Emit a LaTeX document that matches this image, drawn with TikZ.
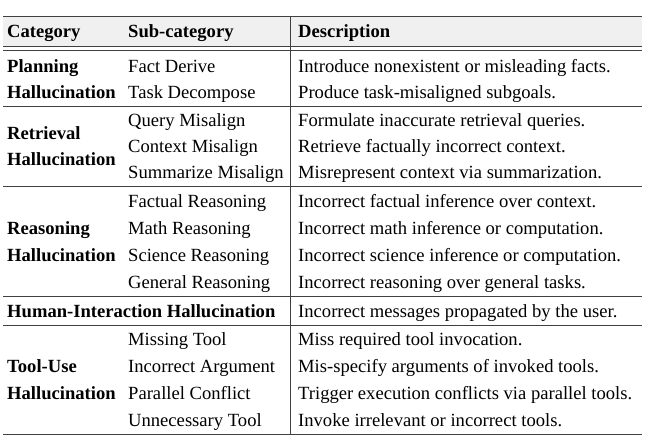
\documentclass[tikz,border=0pt]{standalone}
\usepackage{fontspec}
\setmainfont{Liberation Serif}
\begin{document}
\begin{tikzpicture}[x=1pt,y=-1pt,
  txt/.style={anchor=base west,inner sep=0pt,yshift=-6pt,font=\fontsize{18.6}{22}\selectfont},
  bld/.style={txt,font=\fontsize{18.6}{22}\selectfont\bfseries},
  rl/.style={line width=0.8pt,black!75}]
\useasboundingbox (0,0) rectangle (645,440);
\fill[black!6] (3,17) rectangle (642,46);
\draw[rl] (3,16.5) -- (642,16.5);
\draw[rl] (3,46.5) -- (642,46.5);
\draw[rl] (3,50) -- (642,50);
\foreach \y in {106,186,296,325} \draw[rl] (3,\y) -- (642,\y);
\draw[rl] (3,434) -- (642,434);
\draw[rl] (290,16.5) -- (290,434);
\node[bld] (h1) at (7,31) {Category};
\node[bld] (h2) at (128,31) {Sub-category};
\node[bld] (h3) at (298,31) {Description};
% Planning
\node[bld] (c1a) at (7,66) {Planning};
\node[bld] (c1b) at (7,92) {Hallucination};
\node[txt] (s11) at (128,66) {Fact Derive};
\node[txt] (s12) at (128,92) {Task Decompose};
\node[txt] (d11) at (298,66) {Introduce nonexistent or misleading facts.};
\node[txt] (d12) at (298,92) {Produce task-misaligned subgoals.};
% Retrieval
\node[bld] (c2a) at (7,133) {Retrieval};
\node[bld] (c2b) at (7,159) {Hallucination};
\node[txt] (s21) at (128,120) {Query Misalign};
\node[txt] (s22) at (128,146) {Context Misalign};
\node[txt] (s23) at (128,172) {Summarize Misalign};
\node[txt] (d21) at (298,120) {Formulate inaccurate retrieval queries.};
\node[txt] (d22) at (298,146) {Retrieve factually incorrect context.};
\node[txt] (d23) at (298,172) {Misrepresent context via summarization.};
% Reasoning
\node[bld] (c3a) at (7,228) {Reasoning};
\node[bld] (c3b) at (7,255) {Hallucination};
\node[txt] (s31) at (128,201) {Factual Reasoning};
\node[txt] (s32) at (128,228) {Math Reasoning};
\node[txt] (s33) at (128,255) {Science Reasoning};
\node[txt] (s34) at (128,282) {General Reasoning};
\node[txt] (d31) at (298,201) {Incorrect factual inference over context.};
\node[txt] (d32) at (298,228) {Incorrect math inference or computation.};
\node[txt] (d33) at (298,255) {Incorrect science inference or computation.};
\node[txt] (d34) at (298,282) {Incorrect reasoning over general tasks.};
% Human
\node[bld] (c4) at (7,311) {Human-Interaction Hallucination};
\node[txt] (d41) at (298,311) {Incorrect messages propagated by the user.};
% Tool
\node[bld] (c5a) at (7,366) {Tool-Use};
\node[bld] (c5b) at (7,393) {Hallucination};
\node[txt] (s51) at (128,339) {Missing Tool};
\node[txt] (s52) at (128,366) {Incorrect Argument};
\node[txt] (s53) at (128,393) {Parallel Conflict};
\node[txt] (s54) at (128,420) {Unnecessary Tool};
\node[txt] (d51) at (298,339) {Miss required tool invocation.};
\node[txt] (d52) at (298,366) {Mis-specify arguments of invoked tools.};
\node[txt] (d53) at (298,393) {Trigger execution conflicts via parallel tools.};
\node[txt] (d54) at (298,420) {Invoke irrelevant or incorrect tools.};
\end{tikzpicture}
\end{document}
